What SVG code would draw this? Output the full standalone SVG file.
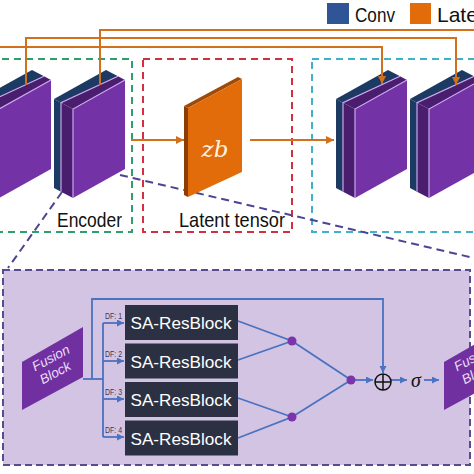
<svg xmlns="http://www.w3.org/2000/svg" xmlns:xlink="http://www.w3.org/1999/xlink" width="474" height="474" viewBox="0 0 474 474">
<style>
.lbl{font-family:"Liberation Sans Narrow","Liberation Sans",Arial,sans-serif;font-size:21px;fill:#111}
.sa{font-family:"Liberation Sans",Arial,sans-serif;font-size:17px;fill:#ffffff}
.df{font-family:"Liberation Sans Narrow","Liberation Sans",Arial,sans-serif;font-size:9px;fill:#3a3a5a}
.fus{font-family:"Liberation Sans",Arial,sans-serif;font-size:13.5px;font-style:italic;fill:#eadcf8}
.orl{fill:none;stroke:#d2701c;stroke-width:2}
.bl{fill:none;stroke:#4a72c0;stroke-width:1.8}
.pd{fill:none;stroke:#4e4494;stroke-width:2;stroke-dasharray:8 5}
.edge{fill:none;stroke:#c9a6ee;stroke-width:1.2}
</style>
<defs>
<marker id="ao" markerWidth="10" markerHeight="10" refX="8" refY="4" orient="auto" markerUnits="userSpaceOnUse">
<path d="M0,0 L8,4 L0,8 Z" fill="#d2701c"/>
</marker>
<marker id="ab" markerWidth="10" markerHeight="10" refX="7" refY="3.5" orient="auto" markerUnits="userSpaceOnUse">
<path d="M0,0 L7,3.5 L0,7 Z" fill="#4a72c0"/>
</marker>
<g id="blk">
<path d="M-19,-10 L-12,-6.3 L-12,82.7 L-19,79 Z" fill="#1d3a63"/>
<path d="M-12,-6.3 L0,0 L0,89 L-12,82.7 Z" fill="#4b1d6e"/>
<path d="M-19,-10 L33,-39 L45,-32.7 L-12,-6.3 Z" fill="#1d3a63"/>
<path d="M-12,-6.3 L45,-32.7 L52,-29 L0,0 Z" fill="#4b1d6e"/>
<path d="M0,0 L52,-29 L52,60 L0,89 Z" fill="#7332a6"/>
<path class="edge" d="M0,89 L0,0 L52,-29 M-12,82.7 L-12,-6.3 L45,-32.7"/>
</g>
</defs>
<rect width="474" height="474" fill="#ffffff"/>

<!-- legend -->
<g id="legend">
<rect x="327" y="3" width="22" height="21" fill="#2f5597"/>
<text class="lbl" x="355" y="22" textLength="40" lengthAdjust="spacingAndGlyphs">Conv</text>
<rect x="410" y="3" width="21" height="21" fill="#e36c0a"/>
<text class="lbl" x="437" y="22">Latent</text>
</g>

<!-- dashed group boxes -->
<g id="encoder-box">
<rect x="-10" y="59" width="142" height="173" fill="none" stroke="#2e9e6a" stroke-width="2" stroke-dasharray="7 5"/>
<text class="lbl" x="57" y="227" textLength="65" lengthAdjust="spacingAndGlyphs">Encoder</text>
</g>
<g id="latent-box">
<rect x="143" y="59" width="149" height="173" fill="none" stroke="#d0303f" stroke-width="2" stroke-dasharray="7 5"/>
<text class="lbl" x="179" y="227" textLength="106" lengthAdjust="spacingAndGlyphs">Latent tensor</text>
</g>
<g id="decoder-box">
<rect x="312" y="59" width="180" height="173" fill="none" stroke="#3fb1c8" stroke-width="2" stroke-dasharray="7 5"/>
</g>

<!-- zoom-out dashed lines -->
<g id="zoom-lines">
<path class="pd" d="M120,175 L474,258"/>
<path class="pd" d="M62,192 L8,268"/>
</g>

<!-- blocks -->
<g id="enc1"><use xlink:href="#blk" transform="translate(-1,109)"/></g>
<g id="enc2"><use xlink:href="#blk" transform="translate(73,109)"/></g>
<g id="dec1"><use xlink:href="#blk" transform="translate(355,109)"/></g>
<g id="dec2"><use xlink:href="#blk" transform="translate(429,109)"/></g>

<g id="latent">
<path d="M184,106 L188,108 L188,197 L184,195 Z" fill="#8b3d05"/>
<path d="M184,106 L238,77 L242,79 L188,108 Z" fill="#a04a0a"/>
<path d="M188,108 L242,79 L242,172 L188,197 Z" fill="#e36c0a"/>
<text x="215" y="157" text-anchor="middle" font-family="'DejaVu Serif',serif" font-style="italic" font-size="23" fill="#fff3e0">zb</text>
</g>

<!-- orange connectors -->
<g id="skip-connectors">
<path class="orl" d="M0,47 L382,47 L382,84" marker-end="url(#ao)"/>
<path class="orl" d="M26,85 L26,38 L456,38 L456,85" marker-end="url(#ao)"/>
<path class="orl" d="M100,85 L100,30 L480,30"/>
<path class="orl" d="M131,140 L184,140" marker-end="url(#ao)"/>
<path class="orl" d="M250,140 L334,140" marker-end="url(#ao)"/>
</g>

<!-- detail panel -->
<g id="panel">
<rect x="3" y="270" width="467" height="195" fill="#d3c4e4" stroke="#5a4a8e" stroke-width="2" stroke-dasharray="7 4"/>
</g>

<g id="fusion-in">
<path d="M22,362 L83,327 L83,377 L22,410 Z" fill="#7030a0"/>
<g transform="translate(53,362) rotate(-28)">
<text class="fus" x="0" y="0" text-anchor="middle">Fusion</text>
<text class="fus" x="-3" y="15" text-anchor="middle">Block</text>
</g>
</g>
<g id="fusion-out">
<path d="M444,362 L505,327 L505,377 L444,410 Z" fill="#7030a0"/>
<g transform="translate(475,362) rotate(-28)">
<text class="fus" x="0" y="0" text-anchor="middle">Fusion</text>
<text class="fus" x="-3" y="15" text-anchor="middle">Block</text>
</g>
</g>

<g id="sa1"><rect x="125" y="305" width="113" height="35" fill="#2b3142"/><text class="sa" x="181" y="329" text-anchor="middle" textLength="101" lengthAdjust="spacingAndGlyphs">SA-ResBlock</text></g>
<g id="sa2"><rect x="125" y="343.5" width="113" height="35" fill="#2b3142"/><text class="sa" x="181" y="367.5" text-anchor="middle" textLength="101" lengthAdjust="spacingAndGlyphs">SA-ResBlock</text></g>
<g id="sa3"><rect x="125" y="382" width="113" height="35" fill="#2b3142"/><text class="sa" x="181" y="406" text-anchor="middle" textLength="101" lengthAdjust="spacingAndGlyphs">SA-ResBlock</text></g>
<g id="sa4"><rect x="125" y="420.5" width="113" height="35" fill="#2b3142"/><text class="sa" x="181" y="444.5" text-anchor="middle" textLength="101" lengthAdjust="spacingAndGlyphs">SA-ResBlock</text></g>

<g id="df-labels">
<text class="df" x="105" y="319" textLength="17" lengthAdjust="spacingAndGlyphs">DF: 1</text>
<text class="df" x="105" y="357" textLength="17" lengthAdjust="spacingAndGlyphs">DF: 2</text>
<text class="df" x="105" y="395" textLength="17" lengthAdjust="spacingAndGlyphs">DF: 3</text>
<text class="df" x="105" y="433" textLength="17" lengthAdjust="spacingAndGlyphs">DF: 4</text>
</g>

<g id="panel-connectors">
<path class="bl" d="M83,379 L103,379"/>
<path class="bl" d="M92,379 L92,299 L383,299 L383,373" marker-end="url(#ab)"/>
<path class="bl" d="M103,323 L103,437"/>
<path class="bl" d="M103,323 L124,323" marker-end="url(#ab)"/>
<path class="bl" d="M103,361 L124,361" marker-end="url(#ab)"/>
<path class="bl" d="M103,399 L124,399" marker-end="url(#ab)"/>
<path class="bl" d="M103,437 L124,437" marker-end="url(#ab)"/>
<path class="bl" d="M238,321 L292,341 L238,360 M238,398 L292,417 L238,438 M292,341 L351,380 L292,417"/>
<path class="bl" d="M351,380 L373,380" marker-end="url(#ab)"/>
<path class="bl" d="M391,380 L407,380" marker-end="url(#ab)"/>
<path class="bl" d="M424,380 L439,380" marker-end="url(#ab)"/>
</g>

<g id="merge-nodes">
<circle cx="292" cy="341" r="4.5" fill="#7b35aa"/>
<circle cx="292" cy="417" r="4.5" fill="#7b35aa"/>
<circle cx="351" cy="380" r="4.5" fill="#7b35aa"/>
</g>
<g id="add-node">
<circle cx="383" cy="382" r="8" fill="none" stroke="#111" stroke-width="1.5"/>
<path d="M375,382 L391,382 M383,374 L383,390" stroke="#111" stroke-width="1.5"/>
</g>
<g id="sigma">
<text x="416" y="387" text-anchor="middle" font-family="'Liberation Serif',serif" font-style="italic" font-size="20" fill="#111">σ</text>
</g>
</svg>
